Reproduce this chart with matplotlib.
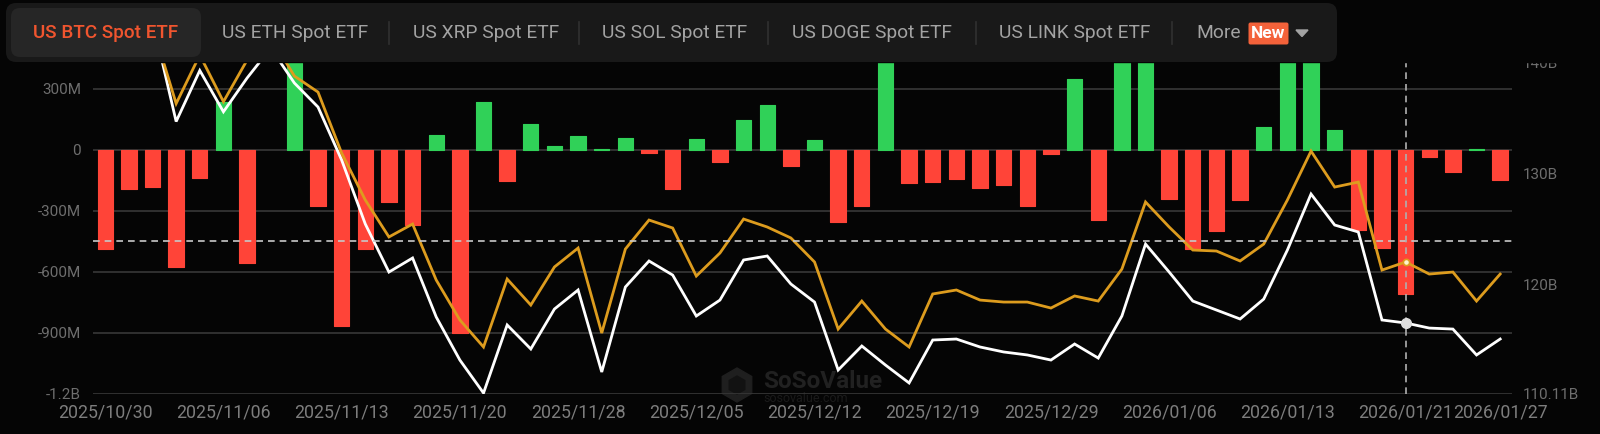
import matplotlib
matplotlib.use("Agg")
from matplotlib import pyplot as plt
from matplotlib.patches import FancyBboxPatch, Rectangle, RegularPolygon, Polygon

plt.rcParams['font.family'] = ['Roboto', 'DejaVu Sans']

# net inflow per day, million USD (clipped ones are guesses, they go behind the tab bar)
flows = [-487, -192, -185, -575, -136, 237, -556, 0, 520, -276,
         -866, -487, -254, -369, 74, -900, 236, -151, 126, 20,
         69, 5, 57, -16, -193, 53, -60, 148, 219, -77,
         48, -354, -276, 540, -161, -159, -143, -188, -175, -274,
         -21, 351, -345, 560, 560, -242, -487, -398, -249, 115,
         560, 560, 98, -393, -482, -707, -33, -107, 3, -148]

# right axis, billions
white_line = [142.06, 142.96, 143.87, 134.70, 139.31, 135.58, 138.63, 141.34, 138.18, 136.01,
              131.22, 125.44, 121.10, 122.37, 117.04, 113.15, 110.17, 116.32, 114.15, 117.76,
              119.48, 112.07, 119.75, 122.10, 120.83, 117.13, 118.57, 122.19, 122.55, 120.02,
              118.39, 112.25, 114.42, 112.70, 111.08, 114.96, 115.05, 114.33, 113.88, 113.61,
              113.15, 114.60, 113.33, 117.13, 123.63, 121.10, 118.48, 117.67, 116.86, 118.66,
              123.09, 128.15, 125.35, 124.72, 116.77, 116.50, 116.04, 115.95, 113.61, 115.05]
orange_line = [143.42, 143.87, 143.33, 136.32, 140.71, 136.49, 140.25, 142.33, 138.81, 137.36,
               131.85, 127.61, 124.27, 125.44, 120.38, 116.77, 114.33, 120.47, 118.12, 121.56,
               123.27, 115.59, 123.18, 125.80, 125.08, 120.74, 122.82, 125.89, 125.17, 124.18,
               122.01, 115.95, 118.48, 115.95, 114.33, 119.12, 119.48, 118.57, 118.39, 118.39,
               117.85, 118.94, 118.48, 121.37, 127.43, 125.17, 123.09, 123.00, 122.10, 123.63,
               127.61, 132.03, 128.78, 129.23, 121.28, 122.01, 120.92, 121.10, 118.48, 120.92]

date_labels = ['2025/10/30', '2025/11/06', '2025/11/13', '2025/11/20', '2025/11/28', '2025/12/05',
               '2025/12/12', '2025/12/19', '2025/12/29', '2026/01/06', '2026/01/13', '2026/01/21',
               '2026/01/27']
date_idx = [0, 5, 10, 15, 20, 25, 30, 35, 40, 45, 50, 55, 59]

# the 600M line is behind the tab bar, its label never shows
left_ticks = [-1200, -900, -600, -300, 0, 300, 600]
left_labels = ['-1.2B', '-900M', '-600M', '-300M', '0', '300M', '']
right_ticks = [110.11, 120, 130, 140]
right_labels = ['110.11B', '120B', '130B', '140B']

tabs = ['US BTC Spot ETF', 'US ETH Spot ETF', 'US XRP Spot ETF', 'US SOL Spot ETF',
        'US DOGE Spot ETF', 'US LINK Spot ETF', 'More']

hover_idx = 55
hover_value = 123.90

BG = '#050505'
GREY = '#6e6e6e'
W, H = 1600, 434

fig = plt.figure(figsize=(W / 100, H / 100), dpi=100, facecolor=BG)


def pixel_axes(zorder):
    a = fig.add_axes([0, 0, 1, 1], zorder=zorder)
    a.set_xlim(0, W)
    a.set_ylim(H, 0)
    a.axis('off')
    return a


# watermark under the chart
back = pixel_axes(0)
back.add_patch(RegularPolygon((737, 385), 6, radius=17, color='#1f1f1f'))
back.add_patch(RegularPolygon((737, 385), 6, radius=9, color='#121212'))
back.text(763, 381, 'SoSoValue', color='#212121', fontsize=17.5, fontweight='bold', va='center', ha='left')
back.text(763, 398, 'sosovalue.com', color='#1a1a1a', fontsize=9, va='center', ha='left')

ax = fig.add_axes([93.4 / W, 1 - 393.7 / H, (1512 - 93.4) / W, (393.7 - 28) / H], zorder=1)
ax.patch.set_alpha(0)
x = list(range(len(flows)))
colors = ['none' if v == 0 else '#30d158' if v > 0 else '#ff4438' for v in flows]
ax.bar(x, flows, width=0.65, color=colors, edgecolor=colors, linewidth=0.8, joinstyle='round', zorder=3)
ax.set_xlim(-0.5, 59.5)
ax.set_ylim(-1200, 600)
ax.set_yticks(left_ticks)
ax.set_yticklabels(left_labels)
ax.set_xticks(date_idx)
ax.set_xticklabels(date_labels)
ax.tick_params(axis='y', length=0, pad=9, labelcolor=GREY, labelsize=11)
ax.tick_params(axis='x', length=0, pad=7, labelcolor='#7d7d7d', labelsize=12.8)
ax.grid(axis='y', color='#383838', linewidth=1.2, zorder=0)
for s in ax.spines.values():
    s.set_visible(False)

ax2 = ax.twinx()
ax2.set_zorder(2)
ax2.plot(x, white_line, color='white', linewidth=2, solid_joinstyle='miter', zorder=4)
ax2.plot(x, orange_line, color='#dd9c1e', linewidth=2, solid_joinstyle='miter', zorder=4)
ax2.axhline(hover_value, color='#c8c8c8', linewidth=1.2, dashes=(4, 3), zorder=5)
ax2.axvline(hover_idx, color='#b0b0b0', linewidth=1.2, dashes=(4, 3), zorder=5)
ax2.plot([hover_idx], [white_line[hover_idx]], 'o', color='#dddddd', markersize=7, zorder=6)
ax2.plot([hover_idx], [orange_line[hover_idx]], 'o', color='#fff6cc', markeredgecolor='#dd9c1e',
         markeredgewidth=1.2, markersize=4.5, zorder=6)
ax2.set_ylim(110.11, 143.15)
ax2.set_yticks(right_ticks)
ax2.set_yticklabels(right_labels)
ax2.tick_params(axis='y', length=0, pad=8, labelcolor=GREY, labelsize=11)
for s in ax2.spines.values():
    s.set_visible(False)

# header strip hides the top of the chart, tab bar sits on it
top = pixel_axes(5)
top.add_patch(Rectangle((0, 0), W, 62, color=BG, zorder=1))
top.add_patch(FancyBboxPatch((14, 11), 1315, 43, boxstyle='round,pad=8,rounding_size=10',
                             facecolor='#191919', edgecolor='none', zorder=2))
top.add_patch(FancyBboxPatch((19, 16), 174, 33, boxstyle='round,pad=8,rounding_size=9',
                             facecolor='#262626', edgecolor='none', zorder=3))

tab_x = [33, 222, 413, 602, 792, 999, 1196]
for i, name in enumerate(tabs):
    top.text(tab_x[i], 33, name, color='#f0552f' if i == 0 else '#a3a3a3', fontsize=13.6 if i == 0 else 13.8,
             fontweight='medium' if i == 0 else 'normal', va='center', ha='left', zorder=4)
for sx in [389, 579, 768, 976, 1172]:
    top.plot([sx, sx], [22, 44], color='#303030', linewidth=1.2, zorder=3)

top.add_patch(FancyBboxPatch((1250, 24), 37, 19, boxstyle='round,pad=1.5,rounding_size=2',
                             facecolor='#f4623a', edgecolor='none', zorder=3))
top.text(1268.5, 33.5, 'New', color='white', fontsize=12.5, fontweight='bold', va='center', ha='center', zorder=4)
top.add_patch(Polygon([[1296, 30], [1308, 30], [1302, 36.5]], closed=True, color='#a3a3a3', zorder=4))

fig.savefig('out.png', dpi=100, facecolor=BG)
